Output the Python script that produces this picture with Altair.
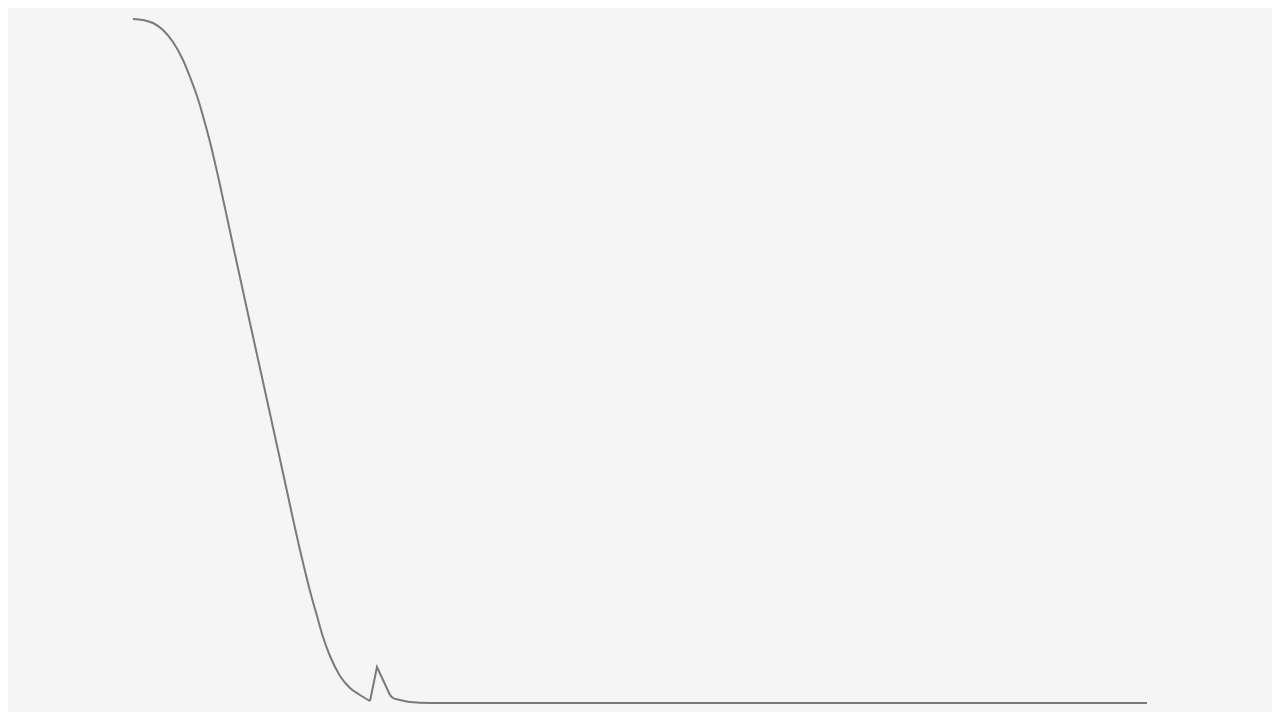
import altair as alt
import pandas as pd

# values (horizontal position, level)
x_vals = [0, 10, 20, 30, 40, 50, 57, 64, 70, 77, 87, 101, 117, 134, 150, 167,
          177, 184, 190, 197, 207, 217, 227, 237, 244, 257, 260, 267, 277, 297,
          1014]
y_vals = [684, 683, 680, 673, 661, 643, 626, 607, 587, 561, 518, 453, 380, 303,
          230, 153, 112, 87, 66, 47, 27, 15, 8, 2, 36, 8, 5, 3, 1, 0,
          0]
spike_start = 237  # where the smooth decline ends and the sharp spike begins
spike_end = 257

df = pd.DataFrame({"x": x_vals, "y": y_vals})

xs = alt.Scale(domain=[-125, 1139], nice=False, zero=False)
ys = alt.Scale(domain=[-9, 695], nice=False, zero=False)

base = alt.Chart(df).encode(
    x=alt.X("x:Q", axis=None, scale=xs),
    y=alt.Y("y:Q", axis=None, scale=ys),
)

smooth = base.transform_filter(alt.datum.x <= spike_start).mark_line(
    color="#7a7a7a", strokeWidth=2, interpolate="monotone")
spike = base.transform_filter(
    (alt.datum.x >= spike_start) & (alt.datum.x <= spike_end)).mark_line(
    color="#7a7a7a", strokeWidth=2, interpolate="linear")
tail = base.transform_filter(alt.datum.x >= spike_end).mark_line(
    color="#7a7a7a", strokeWidth=2, interpolate="monotone")

chart = alt.layer(smooth, spike, tail).properties(
    width=1264,
    height=704,
    padding=0,
    background="#f5f5f5",
).configure_view(stroke=None)

chart.save("out.html", embed_options={"renderer": "svg", "actions": False})
